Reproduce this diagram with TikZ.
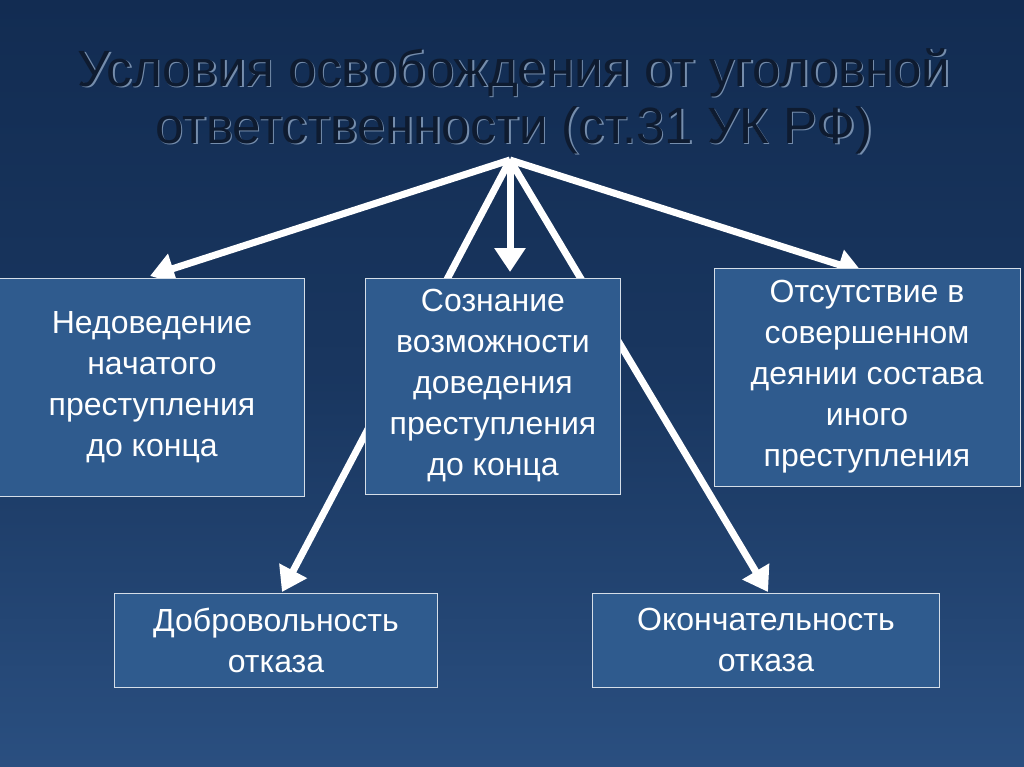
\documentclass[tikz,border=0pt]{standalone}
\usepackage{fontspec}
\setmainfont{Liberation Sans}
\usetikzlibrary{arrows.meta,positioning}
\definecolor{bgdark}{HTML}{122C52}
\definecolor{bglight}{HTML}{2A4F80}
\definecolor{boxblue}{HTML}{2F5B8E}
\definecolor{titleink}{HTML}{0E1B30}

\begin{document}
\begin{tikzpicture}[x=1pt,y=-1pt,
    arr/.style={draw=white,line width=7pt,-{Triangle[length=24pt,width=30pt]}},
    cbox/.style={draw=white!80!boxblue,line width=0.8pt,fill=boxblue,text=white,align=center,
                 font=\fontsize{32}{41}\selectfont,inner sep=0pt}]

    \shade[top color=bgdark,bottom color=bglight,middle color=bgdark!70!bglight] (0,0) rectangle (1024,767);
    \useasboundingbox (0,0) rectangle (1024,767);

    % title
    \node[text=white!35!bglight,align=center,font=\fontsize{51}{57}\selectfont] at (515.5,102.5) {Условия освобождения от уголовной\\ответственности (ст.31 УК РФ)};
    \node (title) [text=titleink,align=center,font=\fontsize{51}{57}\selectfont] at (514,101) {Условия освобождения от уголовной\\ответственности (ст.31 УК РФ)};

    \coordinate (apex) at (510,160);
    \coordinate (t1) at (150,276);
    \coordinate (t2) at (510,272);
    \coordinate (t3) at (862,272);
    \coordinate (t4) at (282,592);
    \coordinate (t5) at (768,592);

    \draw[arr] (apex) -- (t1);
    \draw[arr] (apex) -- (t2);
    \draw[arr] (apex) -- (t3);
    \draw[arr] (apex) -- (t4);
    \draw[arr] (apex) -- (t5);

    \node[cbox,minimum width=305pt,minimum height=218pt] (nedov) at (152,387) {Недоведение\\начатого\\преступления\\до конца};
    \node[cbox,minimum width=255pt,minimum height=216pt] (soznan) at (493,386) {Сознание\\возможности\\доведения\\преступления\\до конца};
    \node[cbox,minimum width=306pt,minimum height=218pt] (otsut) at (867,377) {Отсутствие в\\совершенном\\деянии состава\\иного\\преступления};
    \node[cbox,minimum width=323pt,minimum height=94pt] (dobrov) at (276,640) {Добровольность\\отказа};
    \node[cbox,minimum width=347pt,minimum height=94pt] (okonch) at (766,640) {Окончательность\\отказа};

\end{tikzpicture}
\end{document}
